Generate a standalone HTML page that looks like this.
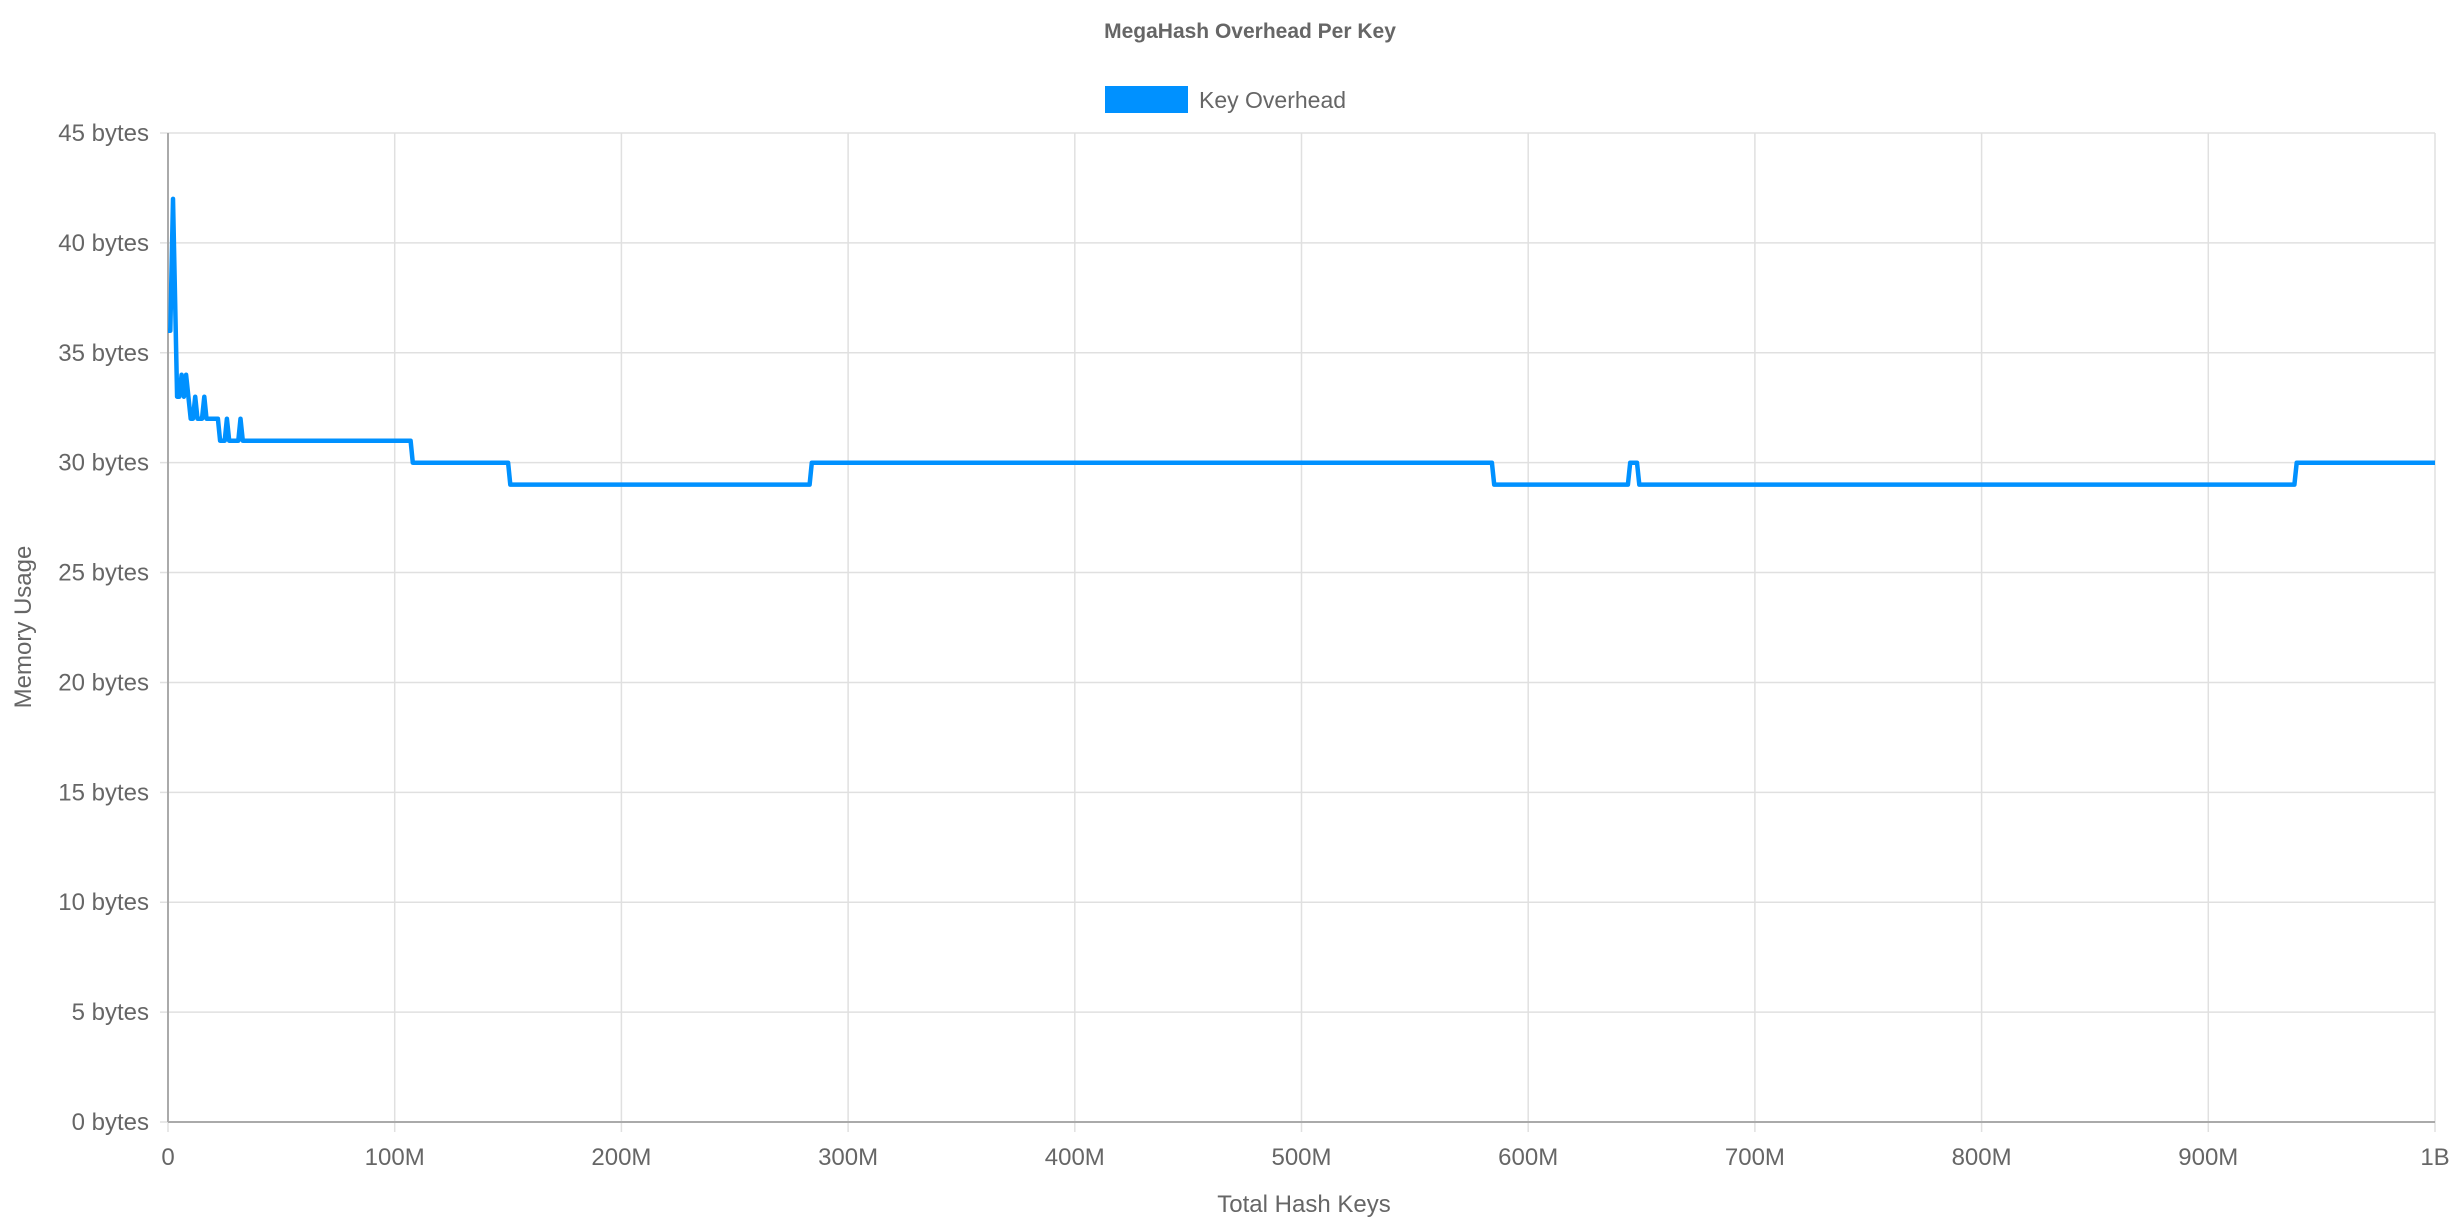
<!DOCTYPE html>
<html><head><meta charset="utf-8"><style>
html,body{margin:0;padding:0;background:#fff;}
svg{display:block;font-family:"Liberation Sans",Arial,sans-serif;}
</style></head><body>
<svg id="chart" width="2458" height="1228" viewBox="0 0 2458 1228">
<text x="1250" y="38" text-anchor="middle" font-size="21" font-weight="bold" fill="#666">MegaHash Overhead Per Key</text>
<g>
<rect x="1105" y="86" width="83" height="27" fill="#0091ff"></rect>
<text x="1199" y="108" font-size="23" fill="#666">Key Overhead</text>
</g>
<g id="grid"></g>
<g id="axes"></g>
<path id="line" fill="none" stroke="#0091ff" stroke-width="4.5" stroke-linejoin="round"></path>
<text x="1304" y="1212" text-anchor="middle" font-size="24" fill="#666">Total Hash Keys</text>
<text transform="translate(31,627) rotate(-90)" text-anchor="middle" font-size="24" fill="#666">Memory Usage</text>
</svg>
<script>
const xMillions = [0,1,2.2,4,5,6,7,8,10,11,12,13,15,16,17,22,23,25,26,27,31,32,33,107,108,150,151,283,284,584,585,644,645,648,649,938,939,1000];
const yBytes    = [36,36,42,33,33,34,33,34,32,32,33,32,32,33,32,32,31,31,32,31,31,32,31,31,30,30,29,29,30,30,29,29,30,30,29,29,30,30];
const yTicks = [0,5,10,15,20,25,30,35,40,45];
const xTicks = [0,100,200,300,400,500,600,700,800,900,1000];
const xTickLabels = ["0","100M","200M","300M","400M","500M","600M","700M","800M","900M","1B"];

const L=168,R=2435,T=133,B=1122;
const sx=v=>L+(v-0)/(1000-0)*(R-L);
const sy=v=>B-(v-0)/(45-0)*(B-T);
const NS="http://www.w3.org/2000/svg";
const grid=document.getElementById('grid'), axes=document.getElementById('axes');
function mk(tag,attrs,parent){const e=document.createElementNS(NS,tag);for(const k in attrs)e.setAttribute(k,attrs[k]);parent.appendChild(e);return e;}
yTicks.forEach(t=>{
  const y=sy(t);
  const g=mk('line',{x1:L-8,x2:R,y1:y,y2:y,stroke:'#e0e0e0','stroke-width':1.5},grid);
  
  
  const tx=mk('text',{x:L-19,y:y+8,'text-anchor':'end','font-size':24,fill:'#666'},axes);
  tx.textContent=t+' bytes';
  
  
});
xTicks.forEach((t,i)=>{
  const x=sx(t);
  const g=mk('line',{x1:x,x2:x,y1:T,y2:B+10,stroke:'#e0e0e0','stroke-width':1.5},grid);
  
  
  const tx=mk('text',{x:x,y:B+43,'text-anchor':'middle','font-size':24,fill:'#666'},axes);
  tx.textContent=xTickLabels[i];
  
  
});
const ya=mk('line',{x1:L,x2:L,y1:T,y2:B,stroke:'#aaa','stroke-width':2},axes);


const xa=mk('line',{x1:L,x2:R,y1:B,y2:B,stroke:'#aaa','stroke-width':2},axes);


document.getElementById('line').setAttribute('d',xMillions.map((v,i)=>(i?'L':'M')+sx(v).toFixed(1)+' '+sy(yBytes[i]).toFixed(1)).join(' '));
</script>
</body></html>
